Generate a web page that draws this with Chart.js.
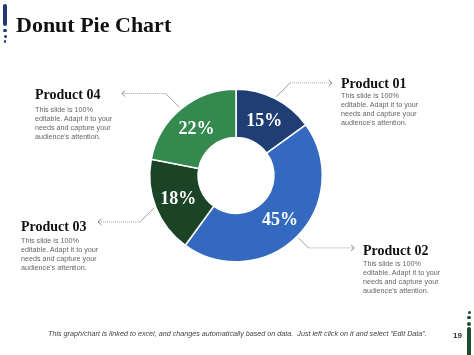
<!DOCTYPE html>
<html>
<head>
<meta charset="utf-8">
<script src="https://cdn.jsdelivr.net/npm/chart.js@4/dist/chart.umd.min.js"></script>
<style>
  html, body { margin:0; padding:0; background:#fff; }
  #wrap { position:relative; width:474px; height:355px; overflow:hidden; background:#fff; }
  #c { position:absolute; left:0; top:0; }
  .abs { position:absolute; white-space:nowrap; }
  .title { font-family:"Liberation Serif", serif; font-weight:bold; font-size:22px; line-height:26px; color:#111; left:16px; top:12px; }
  .head { font-family:"Liberation Serif", serif; font-weight:bold; font-size:14px; line-height:16px; color:#111; }
  .body { font-family:"Liberation Sans", Arial, sans-serif; font-size:7.2px; line-height:9px; color:#666; }
  .pct { font-family:"Liberation Serif", serif; font-weight:bold; font-size:18px; line-height:20px; color:#fff; transform:translate(-50%,-50%); }
  .foot { font-family:"Liberation Sans", Arial, sans-serif; font-style:italic; font-size:7.2px; line-height:10px; color:#444; left:48px; top:329px; }
  .pg { font-family:"Liberation Sans", Arial, sans-serif; font-weight:bold; font-size:8px; line-height:10px; color:#333; left:453px; top:331px; }
  .dot { position:absolute; border-radius:50%; }
</style>
</head>
<body>
<div id="wrap">
  <canvas id="c" width="474" height="355"></canvas>
  <div class="abs title">Donut Pie Chart</div>

  <!-- top-left accent -->
  <div class="dot" style="left:3px;top:4px;width:4px;height:22px;border-radius:2px;background:#1e3a6e"></div>
  <div class="dot" style="left:3.3px;top:28.5px;width:3.4px;height:3.4px;background:#1e3a6e"></div>
  <div class="dot" style="left:3.5px;top:34.5px;width:3px;height:3px;background:#1e3a6e"></div>
  <div class="dot" style="left:3.7px;top:40.3px;width:2.6px;height:2.6px;background:#1e3a6e"></div>

  <!-- bottom-right accent -->
  <div class="dot" style="left:467.5px;top:310.5px;width:3px;height:3px;background:#1d4d2c"></div>
  <div class="dot" style="left:467.3px;top:316px;width:3.4px;height:3.4px;background:#1d4d2c"></div>
  <div class="dot" style="left:467px;top:321.5px;width:4px;height:4px;background:#1d4d2c"></div>
  <div class="dot" style="left:467px;top:327px;width:4px;height:30px;border-radius:2px;background:#1d4d2c"></div>

  <div id="labels"></div>
  <div class="abs foot">This graph/chart is linked to excel, and changes automatically based on data. &nbsp;Just left click on it and select “Edit Data”.</div>
  <div class="abs pg">19</div>
</div>
<script>
// ---- data ----
const categories = ["Product 01", "Product 02", "Product 03", "Product 04"];
const shares = [15, 45, 18, 22];
const pctLabels = ["15%", "45%", "18%", "22%"];
const description = ["This slide is 100%", "editable. Adapt it to your", "needs and capture your", "audience's attention."];

// ---- styles / layout (not data) ----
const colors = ["#1f3f74", "#3469c0", "#1b4427", "#34894f"];
const textPos = [
  { x: 341, headTop: 76,  bodyTop: 90.5 },
  { x: 363, headTop: 243, bodyTop: 258.5 },
  { x: 21,  headTop: 219, bodyTop: 235.5 },
  { x: 35,  headTop: 87,  bodyTop: 104.5 }
];
const elbow = [14, 10, 14, 14];
const tail = [42, 46, 42, 44];

const labelsDiv = document.getElementById('labels');
categories.forEach((name, i) => {
  const h = document.createElement('div');
  h.className = 'abs head';
  h.style.left = textPos[i].x + 'px';
  h.style.top = textPos[i].headTop + 'px';
  h.textContent = name;
  labelsDiv.appendChild(h);
  const b = document.createElement('div');
  b.className = 'abs body';
  b.style.left = textPos[i].x + 'px';
  b.style.top = textPos[i].bodyTop + 'px';
  b.innerHTML = description.map(s => s.replace(/&/g,'&amp;')).join('<br>');
  labelsDiv.appendChild(b);
});
const pctEls = pctLabels.map(t => {
  const d = document.createElement('div');
  d.className = 'abs pct';
  d.textContent = t;
  labelsDiv.appendChild(d);
  return d;
});

const calloutPlugin = {
  id: 'callouts',
  afterDraw(chart) {
    const ctx = chart.ctx;
    const meta = chart.getDatasetMeta(0);
    meta.data.forEach((arc, i) => {
      const p = arc.getProps(['x','y','startAngle','endAngle','outerRadius','innerRadius'], true);
      const mid = (p.startAngle + p.endAngle) / 2;
      const r = p.outerRadius + 2;
      const cx = Math.cos(mid), cy = Math.sin(mid);
      const sx = cx >= 0 ? 1 : -1, sy = cy >= 0 ? 1 : -1;
      const x0 = p.x + r * cx, y0 = p.y + r * cy;
      const x1 = x0 + sx * elbow[i], y1 = y0 + sy * elbow[i];
      const x2 = x1 + sx * tail[i], y2 = y1;
      ctx.save();
      ctx.strokeStyle = '#8a8a8a';
      ctx.lineWidth = 0.8;
      ctx.beginPath(); ctx.moveTo(x0, y0); ctx.lineTo(x1, y1); ctx.stroke();
      ctx.setLineDash([1, 1]);
      ctx.beginPath(); ctx.moveTo(x1, y1); ctx.lineTo(x2, y2); ctx.stroke();
      ctx.setLineDash([]);
      ctx.lineWidth = 1;
      ctx.beginPath();
      ctx.moveTo(x2 - sx * 3.5, y2 - 3); ctx.lineTo(x2, y2); ctx.lineTo(x2 - sx * 3.5, y2 + 3);
      ctx.stroke();
      ctx.restore();
      // percentage label
      const mr = (p.outerRadius + p.innerRadius) / 2;
      pctEls[i].style.left = (p.x + mr * cx) + 'px';
      pctEls[i].style.top = (p.y + mr * cy) + 'px';
    });
  }
};

new Chart(document.getElementById('c'), {
  type: 'doughnut',
  data: {
    labels: categories,
    datasets: [{
      data: shares,
      backgroundColor: colors,
      borderColor: '#ffffff',
      borderWidth: 1.5,
      hoverOffset: 0
    }]
  },
  options: {
    responsive: false,
    animation: false,
    cutout: '44%',
    layout: { padding: { left: 149, right: 151, top: 88.5, bottom: 92.5 } },
    plugins: { legend: { display: false }, tooltip: { enabled: false } }
  },
  plugins: [calloutPlugin]
});
</script>
</body>
</html>
